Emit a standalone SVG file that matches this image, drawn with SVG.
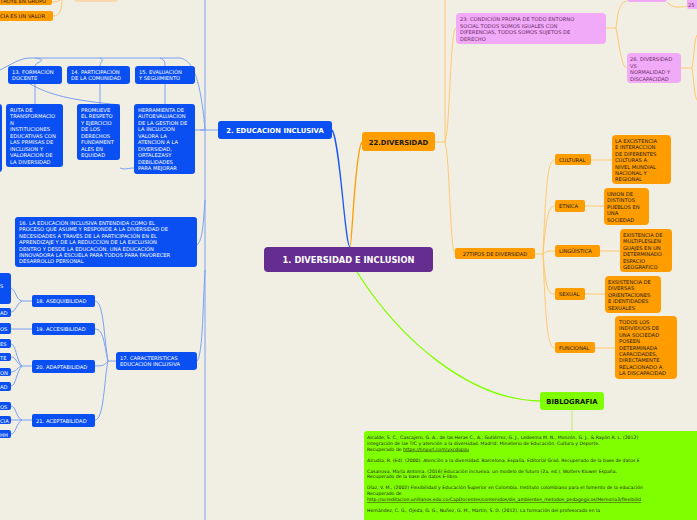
<svg xmlns="http://www.w3.org/2000/svg" width="697" height="520" viewBox="0 0 697 520">
<style>
text{font-family:"DejaVu Sans",Verdana,sans-serif}
.b{fill:#0a4ff2}.bt{fill:#fff;font-size:5.2px}
.o{fill:#ff9c00}.ot{fill:#1a1a1a;font-size:5.2px}
.p{fill:#f1aaf7}.pt{fill:#6a2a6a;font-size:5.2px}
.g{fill:#80ff00}.gt{fill:#222;font-size:4.6px}
.lb{fill:none;stroke:#7aa0f5;stroke-width:1}
.lo{fill:none;stroke:#ffc870;stroke-width:1}
</style>
<rect width="697" height="520" fill="#f1efe3"/>
<g id="connectors">
<path class="lb" d="M205 0 V520"/>
<path d="M218 130 C205 130 205 130 200 130" class="lb"/>
<path d="M332 130 C340 140 345 247 350 247" fill="none" stroke="#1a56f5" stroke-width="1.3"/>
<path d="M362 142 C355 150 352 247 350 247" fill="none" stroke="#ff9c00" stroke-width="1.3"/>
<path d="M357 272 C400 340 470 400 540 401" fill="none" stroke="#80ff00" stroke-width="1.3"/>
<path class="lo" d="M435 142 H445 M445 142 C450 130 450 30 456 28 M445 142 C450 160 450 250 455 254 M445 0 V142"/>
<path class="lo" d="M606 28 H616 M616 28 C618 10 620 2 627 1 M616 28 C620 50 622 68 627 68 M681 68 H692 C694 60 694 40 697 35 M692 68 C694 80 694 95 697 100 M667 2 C672 8 680 8 687 6"/>
<path class="lo" d="M535 254 H543 M543 254 C546 180 548 160 555 160 M543 254 C546 220 548 206 555 206 M543 254 C546 251 550 251 555 251 M543 254 C546 290 548 294 555 294 M543 254 C546 330 548 348 555 348 M591 160 H612 M585 206 H604 M600 251 H620 M585 294 H605 M595 348 H615"/>
<path d="M572 410 V431" fill="none" stroke="#b5f070" stroke-width="1"/>
<path class="lb" d="M205 130 C200 70 190 60 180 58 H30 C20 58 10 65 0 70 M35 58 C50 60 35 62 35 66 M100 58 C105 60 100 62 100 66 M160 58 C165 60 165 62 165 66"/>
<path class="lb" d="M35 84 V104 M100 84 V104 M165 84 V104 M30 84 C50 95 70 100 120 105 M120 168 C125 170 128 168 134 168 M195 130 H205"/>
<path class="lb" d="M197 245 C202 240 203 230 205 200 M197 361 C203 355 203 300 205 270"/>
<path class="lb" d="M116 361 H108 M108 361 C104 340 104 301 95 301 M108 361 C104 345 104 329 95 329 M108 361 C104 365 104 366 95 366 M108 361 C104 380 104 420 95 420"/>
<path class="lb" d="M32 301 H22 C16 300 16 290 11 288 M22 301 C16 304 16 312 11 312 M32 329 H11 M32 366 H22 C16 360 16 344 11 344 M22 366 C16 363 16 357 11 357 M22 366 C16 368 16 372 11 372 M22 366 C16 372 16 386 11 386 M32 420 H22 C16 418 16 406 11 406 M22 420 H11 M22 420 C16 423 16 434 11 434"/>
<path class="lo" d="M52 2 C60 2 62 -2 62 -2 M53 16 C60 16 62 10 62 -2"/>
</g>
<g id="n1"><rect x="264" y="247" width="169" height="25" rx="4" fill="#652d90"/><text x="348.5" y="263" text-anchor="middle" fill="#fff" font-size="8.3" font-weight="bold">1. DIVERSIDAD E INCLUSION</text></g>
<g id="n2"><rect x="218" y="121" width="114" height="18" rx="3" class="b"/><text x="275" y="133" text-anchor="middle" fill="#fff" font-size="6.8" font-weight="bold">2. EDUCACION INCLUSIVA</text></g>
<g id="n22"><rect x="362" y="132" width="73" height="19" rx="3" class="o"/><text x="398.5" y="144.5" text-anchor="middle" fill="#1a1a1a" font-size="6.8" font-weight="bold">22.DIVERSIDAD</text></g>
<g id="n23"><rect x="456" y="13" width="150" height="31" rx="4" class="p"/><text class="pt" x="460" y="21">23. CONDICIÓN PROPIA DE TODO ENTORNO<tspan x="460" dy="6.5">SOCIAL TODOS SOMOS IGUALES CON</tspan><tspan x="460" dy="6.5">DIFERENCIAS, TODOS SOMOS SUJETOS DE</tspan><tspan x="460" dy="6.5">DERECHO</tspan></text></g>
<g id="n24"><rect x="627" y="-6" width="40" height="8" rx="3" class="p"/></g>
<g id="n25"><rect x="687" y="-3" width="12" height="12" rx="2" class="p"/><text class="pt" x="688" y="7">25</text></g>
<g id="n26"><rect x="627" y="53" width="54" height="30" rx="4" class="p"/><text class="pt" x="630" y="61">26. DIVERSIDAD<tspan x="630" dy="6.5">VS</tspan><tspan x="630" dy="6.5">NORMALIDAD Y</tspan><tspan x="630" dy="6.5">DISCAPACIDAD</tspan></text></g>
<g id="n27"><rect x="455" y="248" width="80" height="11" rx="2" class="o"/><text class="ot" x="495" y="255.5" text-anchor="middle" font-size="4.9">27TIPOS DE DIVERSIDAD</text></g>
<g id="cultural"><rect x="555" y="154" width="36" height="11" rx="2" class="o"/><text class="ot" x="559" y="161.5">CULTURAL</text></g>
<g id="cultural-t"><rect x="612" y="135" width="59" height="49" rx="4" class="o"/><text class="ot" x="615" y="143">LA EXCISTENCIA<tspan x="615" dy="6.4">E INTERACCION</tspan><tspan x="615" dy="6.4">DE DIFERENTES</tspan><tspan x="615" dy="6.4">CULTURAS A</tspan><tspan x="615" dy="6.4">NIVEL MUNDIAL</tspan><tspan x="615" dy="6.4">NACIONAL Y</tspan><tspan x="615" dy="6.4">REGIONAL</tspan></text></g>
<g id="etnica"><rect x="555" y="200" width="30" height="12" rx="2" class="o"/><text class="ot" x="559" y="208">ETNICA</text></g>
<g id="etnica-t"><rect x="604" y="188" width="45" height="37" rx="4" class="o"/><text class="ot" x="607" y="196">UNION DE<tspan x="607" dy="6.4">DISTINTOS</tspan><tspan x="607" dy="6.4">PUEBLOS EN</tspan><tspan x="607" dy="6.4">UNA</tspan><tspan x="607" dy="6.4">SOCIEDAD</tspan></text></g>
<g id="ling"><rect x="555" y="245" width="45" height="12" rx="2" class="o"/><text class="ot" x="559" y="253">LINGÜÍSTICA</text></g>
<g id="ling-t"><rect x="620" y="229" width="52" height="43" rx="4" class="o"/><text class="ot" x="623" y="237">EXISTENCIA DE<tspan x="623" dy="6.4">MULTIPLESLEN</tspan><tspan x="623" dy="6.4">GUAJES EN UN</tspan><tspan x="623" dy="6.4">DETERMINADO</tspan><tspan x="623" dy="6.4">ESPACIO</tspan><tspan x="623" dy="6.4">GEOGRAFICO</tspan></text></g>
<g id="sexual"><rect x="555" y="288" width="30" height="12" rx="2" class="o"/><text class="ot" x="559" y="296">SEXUAL</text></g>
<g id="sexual-t"><rect x="605" y="276" width="56" height="37" rx="4" class="o"/><text class="ot" x="608" y="284">EXSISTENCIA DE<tspan x="608" dy="6.4">DIVERSAS</tspan><tspan x="608" dy="6.4">ORIENTACIONES</tspan><tspan x="608" dy="6.4">E IDENTIDADES</tspan><tspan x="608" dy="6.4">SEXUALES</tspan></text></g>
<g id="funcional"><rect x="555" y="342" width="40" height="11" rx="2" class="o"/><text class="ot" x="559" y="349.5">FUNCIONAL</text></g>
<g id="funcional-t"><rect x="615" y="316" width="62" height="63" rx="4" class="o"/><text class="ot" x="619" y="324">TODOS LOS<tspan x="619" dy="6.4">INDIVIDUOS DE</tspan><tspan x="619" dy="6.4">UNA SOCIEDAD</tspan><tspan x="619" dy="6.4">POSEEN</tspan><tspan x="619" dy="6.4">DETERMINADA</tspan><tspan x="619" dy="6.4">CAPACIDADES,</tspan><tspan x="619" dy="6.4">DIRECTAMENTE</tspan><tspan x="619" dy="6.4">RELACIONADO A</tspan><tspan x="619" dy="6.4">LA DISCAPACIDAD</tspan></text></g>
<g id="biblo"><rect x="540" y="392" width="64" height="18" rx="3" class="g"/><text x="572" y="404" text-anchor="middle" fill="#111" font-size="6.8" font-weight="bold">BIBLOGRAFIA</text></g>
<g id="biblo-t"><rect x="364" y="431" width="340" height="95" rx="3" class="g"/><text class="gt" x="367" y="439">Alcalde, S. C., Cascajero, G. A., de las Heras C., A., Gutiérrez, G. J., Ledesma M. N., Monzón, G. J., &amp; Rayón R. L. (2012)<tspan x="367" dy="5.8">integración de las TIC y atención a la diversidad. Madrid: Ministerio de Educación, Cultura y Deporte.</tspan><tspan x="367" dy="5.8">Recuperado de <tspan text-decoration="underline">https://tinyurl.com/yxcdopzu</tspan></tspan><tspan x="367" dy="11">Alcudia, R. (Ed). (2000). Atención a la diversidad. Barcelona, España. Editorial Graó.  Recuperado de la base de datos E</tspan><tspan x="367" dy="11">Casanova, María Antonia. (2016) Educación inclusiva: un modelo de futuro (2a. ed.), Wolters Kluwer España.</tspan><tspan x="367" dy="5.8">Recuperado de la base de datos E-libro.</tspan><tspan x="367" dy="11">Díaz, V. M., (2002) Flexibilidad y Educación Superior en Colombia. Instituto colombiano para el fomento de la educación</tspan><tspan x="367" dy="5.8">Recuperado de</tspan><tspan x="367" dy="5.8" text-decoration="underline">http://acreditacion.unillanos.edu.co/CapDocentes/contenidos/dis_ambientes_metodos_pedagogicos/Memoria3/flexibilid</tspan><tspan x="367" dy="11">Hernández, C. G., Ojeda, G. G., Nuñez, G. M., Martín, S. D. (2012). La formación del profesorado en la</tspan></text></g>
<g id="o1"><rect x="-5" y="-5" width="57" height="10" rx="2" class="o"/><text class="ot" x="0" y="3">TRUYE EN GRUPO</text></g>
<g id="o2"><rect x="-5" y="11" width="58" height="10" rx="2" class="o"/><text class="ot" x="0" y="18">CIA ES UN VALOR</text></g>
<g id="o3"><rect x="74" y="-6" width="44" height="8" rx="2" fill="#fcd9b0"/></g>
<g id="n13"><rect x="8" y="66" width="54" height="18" rx="3" class="b"/><text class="bt" x="12" y="73.5">13. FORMACIÓN<tspan x="12" dy="6.5">DOCENTE</tspan></text></g>
<g id="n14"><rect x="67" y="66" width="63" height="18" rx="3" class="b"/><text class="bt" x="71" y="73.5">14. PARTICIPACIÓN<tspan x="71" dy="6.5">DE LA COMUNIDAD</tspan></text></g>
<g id="n15"><rect x="135" y="66" width="60" height="18" rx="3" class="b"/><text class="bt" x="139" y="73.5">15. EVALUACIÓN<tspan x="139" dy="6.5">Y SEGUIMIENTO</tspan></text></g>
<g id="n12t"><rect x="-5" y="104" width="7" height="68" rx="3" class="b"/></g>
<g id="n13t"><rect x="6" y="104" width="57" height="63" rx="3" class="b"/><text class="bt" x="10" y="111.5">RUTA DE<tspan x="10" dy="6.5">TRANSFORMACIO</tspan><tspan x="10" dy="6.5">N</tspan><tspan x="10" dy="6.5">INSTITUCIONES</tspan><tspan x="10" dy="6.5">EDUCATIVAS CON</tspan><tspan x="10" dy="6.5">LAS PRMISAS DE</tspan><tspan x="10" dy="6.5">INCLUSION Y</tspan><tspan x="10" dy="6.5">VALORACION DE</tspan><tspan x="10" dy="6.5">LA DIVERSIDAD</tspan></text></g>
<g id="n14t"><rect x="77" y="104" width="43" height="56" rx="3" class="b"/><text class="bt" x="81" y="111.5">PROMUEVE<tspan x="81" dy="6.5">EL RESPETO</tspan><tspan x="81" dy="6.5">Y EJERCICIO</tspan><tspan x="81" dy="6.5">DE LOS</tspan><tspan x="81" dy="6.5">DERECHOS</tspan><tspan x="81" dy="6.5">FUNDAMENT</tspan><tspan x="81" dy="6.5">ALES EN</tspan><tspan x="81" dy="6.5">EQUIDAD</tspan></text></g>
<g id="n15t"><rect x="134" y="104" width="61" height="70" rx="3" class="b"/><text class="bt" x="138" y="111.5">HERRAMIENTA DE<tspan x="138" dy="6.5">AUTOEVALUACION</tspan><tspan x="138" dy="6.5">DE LA GESTION DE</tspan><tspan x="138" dy="6.5">LA INCLUCION</tspan><tspan x="138" dy="6.5">VALORA LA</tspan><tspan x="138" dy="6.5">ATENCION A LA</tspan><tspan x="138" dy="6.5">DIVERSIDAD,</tspan><tspan x="138" dy="6.5">ORTALEZASY</tspan><tspan x="138" dy="6.5">DEBILIDADES</tspan><tspan x="138" dy="6.5">PARA MEJORAR</tspan></text></g>
<g id="n16"><rect x="15" y="217" width="182" height="50" rx="3" class="b"/><text class="bt" x="19" y="225">16. LA EDUCACIÓN INCLUSIVA ENTENDIDA COMO EL<tspan x="19" dy="6.4">PROCESO QUE ASUME Y RESPONDE A LA  DIVERSIDAD DE</tspan><tspan x="19" dy="6.4">NECESIDADES  A TRAVÉS DE LA PARTICIPACIÓN EN EL</tspan><tspan x="19" dy="6.4">APRENDIZAJE  Y DE LA REDUCCIÓN DE LA EXCLUSIÓN</tspan><tspan x="19" dy="6.4">DENTRO Y DESDE LA EDUCACIÓN.        UNA EDUCACIÓN</tspan><tspan x="19" dy="6.4">INNOVADORA LA ESCUELA PARA TODOS  PARA  FAVORECER</tspan><tspan x="19" dy="6.4">DESARROLLO PERSONAL</tspan></text></g>
<g id="n17"><rect x="116" y="352" width="81" height="18" rx="3" class="b"/><text class="bt" x="120" y="359.5">17. CARACTERÍSTICAS<tspan x="120" dy="6.5">EDUCACIÓN INCLUSIVA</tspan></text></g>
<g id="n18"><rect x="32" y="295" width="63" height="12" rx="2" class="b"/><text class="bt" x="36" y="303">18. ASEQUIBILIDAD</text></g>
<g id="n19"><rect x="32" y="323" width="63" height="12" rx="2" class="b"/><text class="bt" x="36" y="331">19. ACCESIBILIDAD</text></g>
<g id="n20"><rect x="32" y="360" width="63" height="13" rx="2" class="b"/><text class="bt" x="36" y="368.5">20. ADAPTABILIDAD</text></g>
<g id="n21"><rect x="32" y="414" width="63" height="13" rx="2" class="b"/><text class="bt" x="36" y="422.5">21. ACEPTABILIDAD</text></g>
<g id="l1"><rect x="-5" y="273" width="16" height="31" rx="3" class="b"/><text class="bt" x="0" y="288">S</text></g>
<g id="l2"><rect x="-5" y="308" width="16" height="9" rx="2" class="b"/><text class="bt" x="0" y="315">AD</text></g>
<g id="l3"><rect x="-5" y="323" width="16" height="11" rx="2" class="b"/><text class="bt" x="0" y="331">OS</text></g>
<g id="l4"><rect x="-5" y="339" width="16" height="9" rx="2" class="b"/><text class="bt" x="0" y="346">ES</text></g>
<g id="l5"><rect x="-5" y="353" width="16" height="8" rx="2" class="b"/><text class="bt" x="0" y="359.5">TE</text></g>
<g id="l6"><rect x="-5" y="368" width="16" height="8" rx="2" class="b"/><text class="bt" x="0" y="374.5">ON</text></g>
<g id="l7"><rect x="-5" y="382" width="16" height="9" rx="2" class="b"/><text class="bt" x="0" y="389">AD</text></g>
<g id="l8"><rect x="-5" y="402" width="16" height="8" rx="2" class="b"/><text class="bt" x="0" y="408.5">OS</text></g>
<g id="l9"><rect x="-5" y="416" width="16" height="8" rx="2" class="b"/><text class="bt" x="0" y="422.5">CIA</text></g>
<g id="l10"><rect x="-5" y="430" width="16" height="8" rx="2" class="b"/><text class="bt" x="0" y="436.5">HH</text></g>
</svg>
